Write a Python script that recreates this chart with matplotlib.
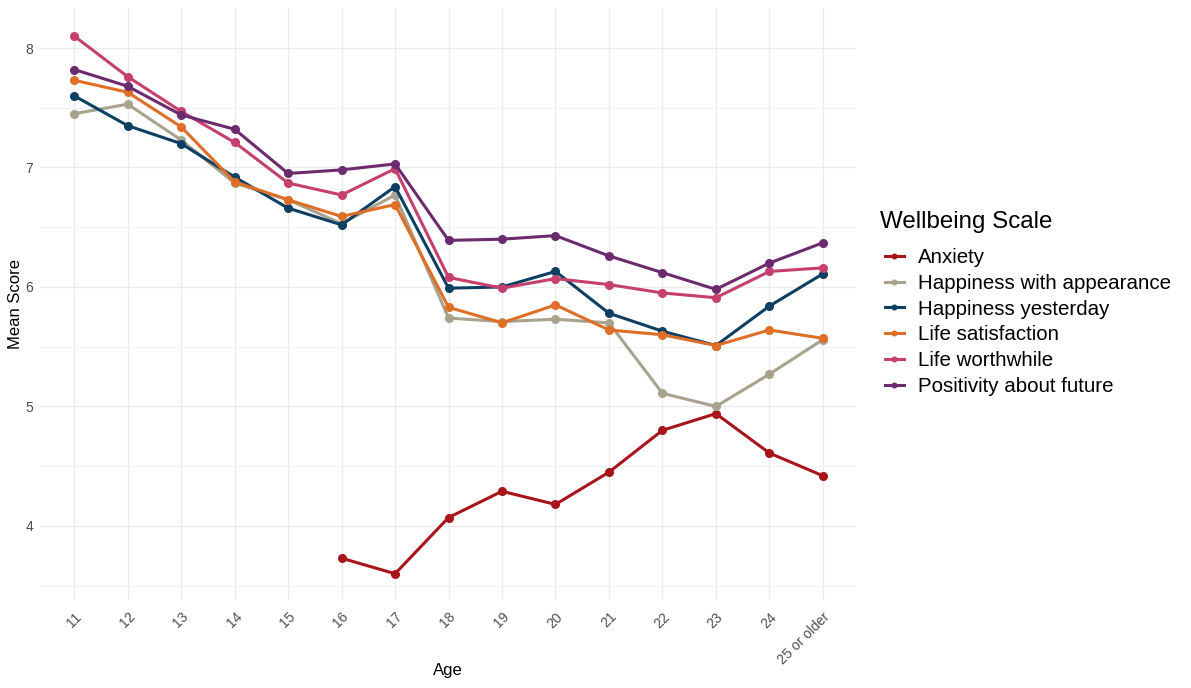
import matplotlib.pyplot as plt
import numpy as np

plt.rcParams['font.family'] = ['Liberation Sans', 'DejaVu Sans']

ages = ["11", "12", "13", "14", "15", "16", "17", "18", "19", "20",
        "21", "22", "23", "24", "25 or older"]

# mean scores per wellbeing scale (NaN where no data)
anxiety = [np.nan, np.nan, np.nan, np.nan, np.nan, 3.73, 3.60, 4.07, 4.29, 4.18,
           4.45, 4.80, 4.94, 4.61, 4.42]
happy_appearance = [7.45, 7.53, 7.23, 6.87, 6.73, 6.53, 6.77, 5.74, 5.71, 5.73,
                    5.70, 5.11, 5.00, 5.27, 5.56]
happy_yesterday = [7.60, 7.35, 7.20, 6.92, 6.66, 6.52, 6.84, 5.99, 6.00, 6.13,
                   5.78, 5.63, 5.51, 5.84, 6.11]
life_satisfaction = [7.73, 7.63, 7.34, 6.88, 6.73, 6.59, 6.69, 5.83, 5.70, 5.85,
                     5.64, 5.60, 5.51, 5.64, 5.57]
life_worthwhile = [8.10, 7.76, 7.47, 7.21, 6.87, 6.77, 6.99, 6.08, 5.99, 6.07,
                   6.02, 5.95, 5.91, 6.13, 6.16]
positivity = [7.82, 7.68, 7.44, 7.32, 6.95, 6.98, 7.03, 6.39, 6.40, 6.43,
              6.26, 6.12, 5.98, 6.20, 6.37]

series = [
    ("Anxiety", anxiety, "#A8141A"),
    ("Happiness with appearance", happy_appearance, "#A9A28E"),
    ("Happiness yesterday", happy_yesterday, "#0D3F62"),
    ("Life satisfaction", life_satisfaction, "#DF6E27"),
    ("Life worthwhile", life_worthwhile, "#C5406F"),
    ("Positivity about future", positivity, "#6C2B6E"),
]

W, H = 1191, 688
fig = plt.figure(figsize=(W / 100, H / 100), dpi=100)
ax = fig.add_axes([40 / W, (H - 600) / H, 816 / W, 592 / H])

x = np.arange(len(ages))
handles = []
for name, vals, col in series:
    h, = ax.plot(x, vals, color=col, lw=2.2, marker="o", ms=5.5, label=name)
    handles.append(h)

ax.set_xlim(-0.64, len(ages) - 1 + 0.62)
ax.set_ylim(3.38, 8.335)
ax.set_xticks(x)
ax.set_xticklabels(ages, rotation=45, ha="right", va="top",
                   rotation_mode="anchor", fontsize=10, color="#4D4D4D")
ax.set_yticks([4, 5, 6, 7, 8])
ax.set_yticks([3.5, 4.5, 5.5, 6.5, 7.5], minor=True)
ax.tick_params(axis="y", labelsize=10, labelcolor="#4D4D4D", length=0, pad=5)
ax.tick_params(axis="x", length=0, pad=7)
ax.tick_params(which="minor", length=0)
ax.grid(True, which="major", color="#EBEBEB", lw=1.0)
ax.grid(True, which="minor", axis="y", color="#F2F2F2", lw=0.8)
ax.set_axisbelow(True)
for s in ax.spines.values():
    s.set_visible(False)

fig.text(448 / W, 1 - 671 / H, "Age", fontsize=12, ha="center", va="center")
fig.text(16 / W, 1 - 304 / H, "Mean Score", fontsize=12, rotation=90,
         ha="center", va="center")

# legend title drawn on its own so the gap to the entries matches
fig.text(880 / W, 1 - 222 / H, "Wellbeing Scale", fontsize=17.4,
         ha="left", va="center")
leg = fig.legend(handles=handles, loc="center left",
                 bbox_to_anchor=(866 / W, 1 - 322 / H), frameon=False,
                 fontsize=14.8, handlelength=0.95, handletextpad=0.7,
                 labelspacing=0.33, markerscale=0.6)

fig.savefig("out.png", dpi=100)
